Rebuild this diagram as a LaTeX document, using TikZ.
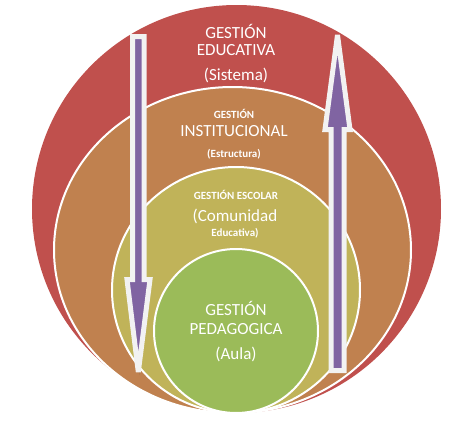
\documentclass[tikz,border=0pt]{standalone}
\usepackage{fontspec}
\setmainfont{Carlito}
\definecolor{sistemaRed}{RGB}{192,80,77}
\definecolor{estructuraBrown}{RGB}{192,129,79}
\definecolor{comunidadOlive}{RGB}{192,179,89}
\definecolor{aulaGreen}{RGB}{155,187,89}
\definecolor{flechaPurple}{RGB}{128,100,162}
\definecolor{flechaRim}{RGB}{242,242,242}
\tikzset{
  ring/.style={draw=white,line width=2pt},
  flecha/.style={fill=flechaPurple,draw=flechaRim,line width=5pt,line join=miter,miter limit=2,
    preaction={draw=black!70,opacity=.35,transform canvas={xshift=1.5pt,yshift=-1.5pt}}},
  bigtext/.style={text=white,anchor=base,font=\fontsize{17}{19}\selectfont},
  smalltext/.style={text=white,anchor=base,font=\fontsize{11}{13}\selectfont\bfseries}
}
\begin{document}
\begin{tikzpicture}[x=1pt,y=-1pt]
  \useasboundingbox (0,0) rectangle (467,423);

  %% nested levels
  \fill[sistemaRed] (236.5,209) ellipse (204.5 and 204); % sistema
  \filldraw[ring,fill=estructuraBrown] (232.5,250) ellipse (178.5 and 163); % estructura
  \filldraw[ring,fill=comunidadOlive] (236,290) ellipse (124 and 123); % comunidad
  \filldraw[ring,fill=aulaGreen] (236,331) circle (82); % aula

  % arrows
  \draw[flecha] (132.5,36.5) -- (144,36.5) -- (144,279.5) -- (150,279.5) -- (138.3,372)
      -- (127,279.5) -- (132.5,279.5) -- cycle; % down
  \draw[flecha] (331,370.5) -- (344,370.5) -- (344,129.5) -- (350,129.5) -- (337.5,35)
      -- (325,129.5) -- (331,129.5) -- cycle; % up

  % labels
  \node[bigtext] (sistemaA) at (236,38) {GESTIÓN};
  \node[bigtext] (sistemaB) at (236,56) {EDUCATIVA};
  \node[bigtext] (sistemaC) at (236,80) {(Sistema)};
  \node[smalltext] (estructuraA) at (234,118.5) {GESTIÓN};
  \node[bigtext] (estructuraB) at (234,136) {INSTITUCIONAL};
  \node[smalltext] (estructuraC) at (234,157.5) {(Estructura)};
  \node[smalltext] (comunidadA) at (236,199.3) {GESTIÓN ESCOLAR};
  \node[bigtext] (comunidadB) at (235,221) {(Comunidad};
  \node[smalltext] (comunidadC) at (235,236) {Educativa)};
  \node[bigtext] (aulaA) at (236,315) {GESTIÓN};
  \node[bigtext] (aulaB) at (236,334) {PEDAGOGICA};
  \node[bigtext] (aulaC) at (236,359) {(Aula)};
\end{tikzpicture}
\end{document}
